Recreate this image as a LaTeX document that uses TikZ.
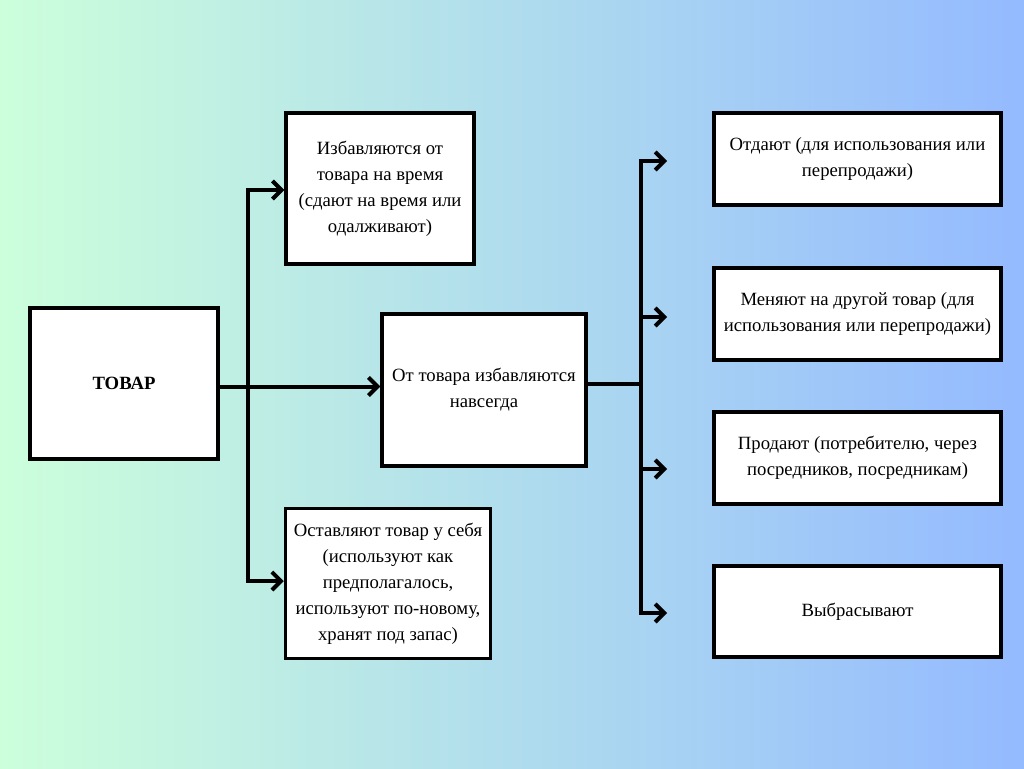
\documentclass[tikz,border=0pt]{standalone}
\usepackage{fontspec}
\setmainfont{Liberation Serif}
\usetikzlibrary{arrows.meta}
\definecolor{bgL}{RGB}{204,255,219}
\definecolor{bgR}{RGB}{148,186,255}
\tikzset{
  box/.style={draw=black, line width=3.5pt, fill=white, align=center, inner sep=0pt,
    font=\fontsize{18.7}{26}\selectfont},
  conn/.style={line width=4pt, draw=black},
  arr/.style={conn, -{Straight Barb[length=9pt,width=18pt]}},
}
\begin{document}
\begin{tikzpicture}[x=1pt,y=-1pt]
\shade[left color=bgL, right color=bgR] (0,0) rectangle (1024,768);
\useasboundingbox (0,0) rectangle (1024,768);

\node[box, minimum width=188, minimum height=151, font=\bfseries\fontsize{18.7}{26}\selectfont] (tovar) at (124,383.5) {ТОВАР};
\node[box, minimum width=188, minimum height=151] (b1) at (380,188.5) {Избавляются от\\товара на время\\(сдают на время или\\одалживают)};
\node[box, minimum width=204, minimum height=152] (mid) at (484,390) {От товара избавляются\\навсегда};
\node[box, minimum width=205, minimum height=150] (b3) at (388,583.5) {Оставляют товар у себя\\(используют как\\предполагалось,\\используют по-новому,\\хранят под запас)};

\node[box, minimum width=287, minimum height=92] (r1) at (857.5,159) {Отдают (для использования или\\перепродажи)};
\node[box, minimum width=287, minimum height=92] (r2) at (857.5,314) {Меняют на другой товар (для\\использования или перепродажи)};
\node[box, minimum width=287, minimum height=92] (r3) at (857.5,458) {Продают (потребителю, через\\посредников, посредникам)};
\node[box, minimum width=287, minimum height=91] (r4) at (857.5,611.5) {Выбрасывают};

\coordinate (j1) at (248,386.5);
\coordinate (j2) at (641,384);
\coordinate (e1) at (667,161);
\coordinate (e2) at (667,317);
\coordinate (e3) at (667,469);
\coordinate (e4) at (667,613);

\draw[arr] (tovar.east|-j1) -- (mid.west|-j1);
\draw[arr] (j1) |- (b1.west|-0,190);
\draw[arr] (j1) |- (b3.west|-0,581);

\draw[conn] (mid.east|-j2) -- (j2);
\draw[arr] (j2) |- (e1);
\draw[arr] (j2) |- (e2);
\draw[arr] (j2) |- (e3);
\draw[arr] (j2) |- (e4);
\end{tikzpicture}
\end{document}
